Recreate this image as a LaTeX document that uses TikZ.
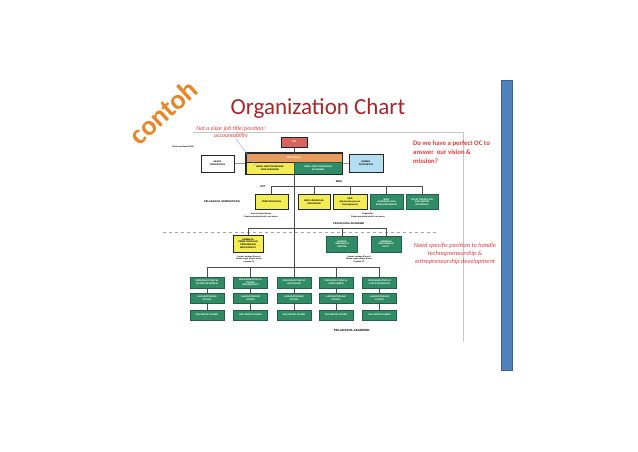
\documentclass[tikz,border=0pt]{standalone}
\usepackage{fontspec}
\setmainfont{Carlito}
\newfontfamily\chartfont{Liberation Sans}
\usepackage{xcolor}
\usetikzlibrary{positioning,fit}
\definecolor{titlered}{HTML}{A8262A}
\definecolor{notered}{HTML}{E23B3B}
\definecolor{orng}{HTML}{E8872A}
\definecolor{yelfill}{HTML}{F3EC55}
\definecolor{grnfill}{HTML}{2F8C66}
\definecolor{ypbfill}{HTML}{D9625F}
\definecolor{rekfill}{HTML}{E79B5E}
\definecolor{bluefill}{HTML}{B3DEEF}
\definecolor{barblue}{HTML}{4F81BD}
\tikzset{
  box/.style={draw=black!85, line width=0.5pt, align=center, font=\chartfont\bfseries\fontsize{2.3}{2.7}\selectfont, inner sep=0.5pt, minimum width=33pt, minimum height=15pt},
  yel/.style={box, fill=yelfill},
  grn/.style={box, fill=grnfill, text=white, draw=grnfill!70!black},
  prodi/.style={grn, minimum width=34pt, minimum height=11pt},
  lab/.style={grn, minimum width=34pt, minimum height=10pt},
  link/.style={draw=black!70, line width=0.5pt},
  tag/.style={font=\chartfont\bfseries\fontsize{2.6}{3}\selectfont, inner sep=0pt},
  note/.style={font=\chartfont\bfseries\fontsize{2}{2.5}\selectfont, align=center, inner sep=0pt},
  remark/.style={font=\fontsize{6.8}{9}\selectfont\bfseries, text=notered, align=left, inner sep=0pt},
  aside/.style={font=\fontsize{6.4}{8}\selectfont\itshape, text=notered, align=center, inner sep=0pt}}

\begin{document}
\begin{tikzpicture}[x=1pt, y=-1pt]
  \useasboundingbox (0,0) rectangle (638,451);
  % slide bar and scan edge
  \fill[barblue, draw=barblue!75!black] (501,80) rectangle (512,370);
  \draw[black!22, line width=0.6pt] (193,132) -- (463,132) -- (463,342);

  \node[text=titlered, font=\fontsize{23}{26}\selectfont] (title) at (318,108) {Organization Chart};
  \node[text=orng, font=\fontsize{28}{30}\selectfont\bfseries, rotate=42] (contoh) at (163,112) {contoh};

  % top level
  \node[tag, font=\chartfont\bfseries\fontsize{2}{2.5}\selectfont] (bupp) at (183,147) {Garis koordinasi BUPP};
  \node[box, fill=ypbfill, text=white, minimum width=26pt, minimum height=10pt] (ypb) at (294,142) {YPB};
  \node[box, fill=rekfill, text=white, minimum width=96pt, minimum height=9pt] (rektor) at (294,157.5) {REKTOR BU};
  \node[yel, minimum width=48pt, minimum height=12pt, anchor=north west] (wr1) at (rektor.south west) {WAKIL REKTOR BIDANG\\NON AKADEMIK};
  \node[grn, minimum width=48pt, minimum height=12pt, anchor=north east] (wr2) at (rektor.south east) {WAKIL REKTOR BIDANG\\AKADEMIK};
  \node[draw=black!85, line width=0.9pt, inner sep=0pt, fit=(rektor)(wr1)(wr2)] (rek) {};
  \node[box, fill=white, line width=1pt, minimum height=17pt] (senat) at (217.5,163.5) {SENAT\\UNIVERSITAS};
  \node[box, fill=bluefill, minimum width=34pt, minimum height=18pt] (dewan) at (366,163.5) {DEWAN\\PENYANTUN};
  \draw[link, black!40] (senat.east) -- (senat.east -| rek.west);
  \draw[link, black!40] (rek.east |- dewan.west) -- (dewan.west);

  % pelaksana administrasi
  \node[tag] (upt) at (263,187) {UPT};
  \node[tag] (biro) at (339,182) {BIRO};
  \node[tag] (pladm) at (222,202) {PELAKSANA ADMINISTRASI};
  \node[yel] (pustaka) at (271.5,202) {PERPUSTAKAAN};
  \node[yel, minimum width=32pt] (biroumum) at (314,202) {BIRO UMUM DAN\\KEUANGAN};
  \node[yel, minimum width=34pt] (hrd) at (350,202) {HRD\\(Human Resources\\Development)};
  \node[grn] (biroakad) at (386.5,202) {BIRO\\AKADEMIK DAN\\KEMAHASISWAAN};
  \node[grn, minimum width=32pt] (pustik) at (422,202) {PUSAT TEKNOLOGI\\DAN SISTEM\\INFORMASI};
  \node[note] (kpus) at (261,215.5) {Kepala Perpustakaan\\Pelaksana administratif, non dosen};
  \node[note] (kbiro) at (368,215.5) {Kepala Biro\\Pelaksana administratif, non dosen};
  \coordinate (biroline) at (0,186);
  \draw[link] (pustaka.north) |- (pustik.north |- biroline) -- (pustik.north);
  \draw[link] (biroumum.north) -- (biroumum.north |- biroline); \draw[link] (hrd.north) -- (hrd.north |- biroline); \draw[link] (biroakad.north) -- (biroakad.north |- biroline);

  % penunjang akademik
  \draw[dashed, black!35, line width=0.5pt] (163,232) -- (438,232);
  \node[tag] (pjak) at (349,224) {PENUNJANG AKADEMIK};
  \node[yel, minimum width=30pt, minimum height=17pt] (lppm) at (248,243.5) {LEMBAGA\\PENELITIAN DAN\\PENGABDIAN\\MASYARAKAT};
  \node[grn, minimum width=31pt, minimum height=16pt] (brc) at (342,244) {BAKRIE\\RESEARCH\\CENTER};
  \node[grn, minimum width=30pt, minimum height=16pt] (lpm) at (386,244) {LEMBAGA\\PENJAMINAN\\MUTU};
  \node[note] (klppm) at (249,259) {Ketua Lembaga (Dosen)\\Beban tugas sesuai aturan\\Yayasan PT};
  \node[note] (kbrc) at (359,259) {Ketua Lembaga (Dosen)\\Beban tugas sesuai aturan\\Yayasan PT};
  \coordinate (pjline) at (0,228);
  \draw[link] (lppm.north) |- (lpm.north |- pjline) -- (lpm.north);
  \draw[link] (brc.north) -- (brc.north |- pjline);

  % pelaksana akademik
  \node[prodi] (pr1) at (207,282.5) {PROGRAM STUDI S1\\SISTEM INFORMASI};
  \node[prodi] (pr2) at (250.5,282.5) {PROGRAM STUDI S1\\TEKNIK\\INFORMATIKA};
  \node[prodi] (pr3) at (294,282.5) {PROGRAM STUDI S1\\AKUNTANSI};
  \node[prodi] (pr4) at (336,282.5) {PROGRAM STUDI S1\\MANAJEMEN};
  \node[prodi] (pr5) at (379.5,282.5) {PROGRAM STUDI S1\\ILMU KOMUNIKASI};
  \node[lab, below=5pt of pr1] (lab1) {LABORATORIUM/\\STUDIO};
  \node[lab, below=5pt of pr2] (lab2) {LABORATORIUM/\\STUDIO};
  \node[lab, below=5pt of pr3] (lab3) {LABORATORIUM/\\STUDIO};
  \node[lab, below=5pt of pr4] (lab4) {LABORATORIUM/\\STUDIO};
  \node[lab, below=5pt of pr5] (lab5) {LABORATORIUM/\\STUDIO};
  \node[lab, below=6pt of lab1] (kd1) {KELOMPOK DOSEN};
  \node[lab, below=6pt of lab2] (kd2) {KELOMPOK DOSEN};
  \node[lab, below=6pt of lab3] (kd3) {KELOMPOK DOSEN};
  \node[lab, below=6pt of lab4] (kd4) {KELOMPOK DOSEN};
  \node[lab, below=6pt of lab5] (kd5) {KELOMPOK DOSEN};
  \node[tag, font=\chartfont\bfseries\fontsize{3}{3.5}\selectfont] (plak) at (352,330) {PELAKSANA AKADEMIK};
  \coordinate (prline) at (0,267);
  \draw[link] (pr1.north) |- (pr5.north |- prline) -- (pr5.north);
  \draw[link] (pr2.north) -- (pr2.north |- prline); \draw[link] (pr4.north) -- (pr4.north |- prline);
  \draw[link] (pr1) -- (lab1) -- (kd1); \draw[link] (pr2) -- (lab2) -- (kd2); \draw[link] (pr3) -- (lab3) -- (kd3);
  \draw[link] (pr4) -- (lab4) -- (kd4); \draw[link] (pr5) -- (lab5) -- (kd5);

  % trunk
  \draw[link] (ypb.south) -- (rektor.north);
  \draw[link] (rek.south) -- (pr3.north);

  % remarks
  \node[aside, font=\fontsize{5.9}{7.5}\selectfont\itshape] (unclear) at (231,132.5) {Not a clear job title/position/\\accountability};
  \coordinate (ptr) at (255,165);
  \draw[cyan!60!blue!50, line width=0.4pt] ([xshift=5pt]unclear.south) -- (ptr);
  \node[remark, anchor=north west] (vision) at (413,140.5) {Do we have a perfect OC to\\answer~ our vision \&\\mission?};
  \node[aside] (techno) at (455,254) {Need specific position to handle\\technopreneurship \&\\entrepreneurship development};
\end{tikzpicture}
\end{document}
